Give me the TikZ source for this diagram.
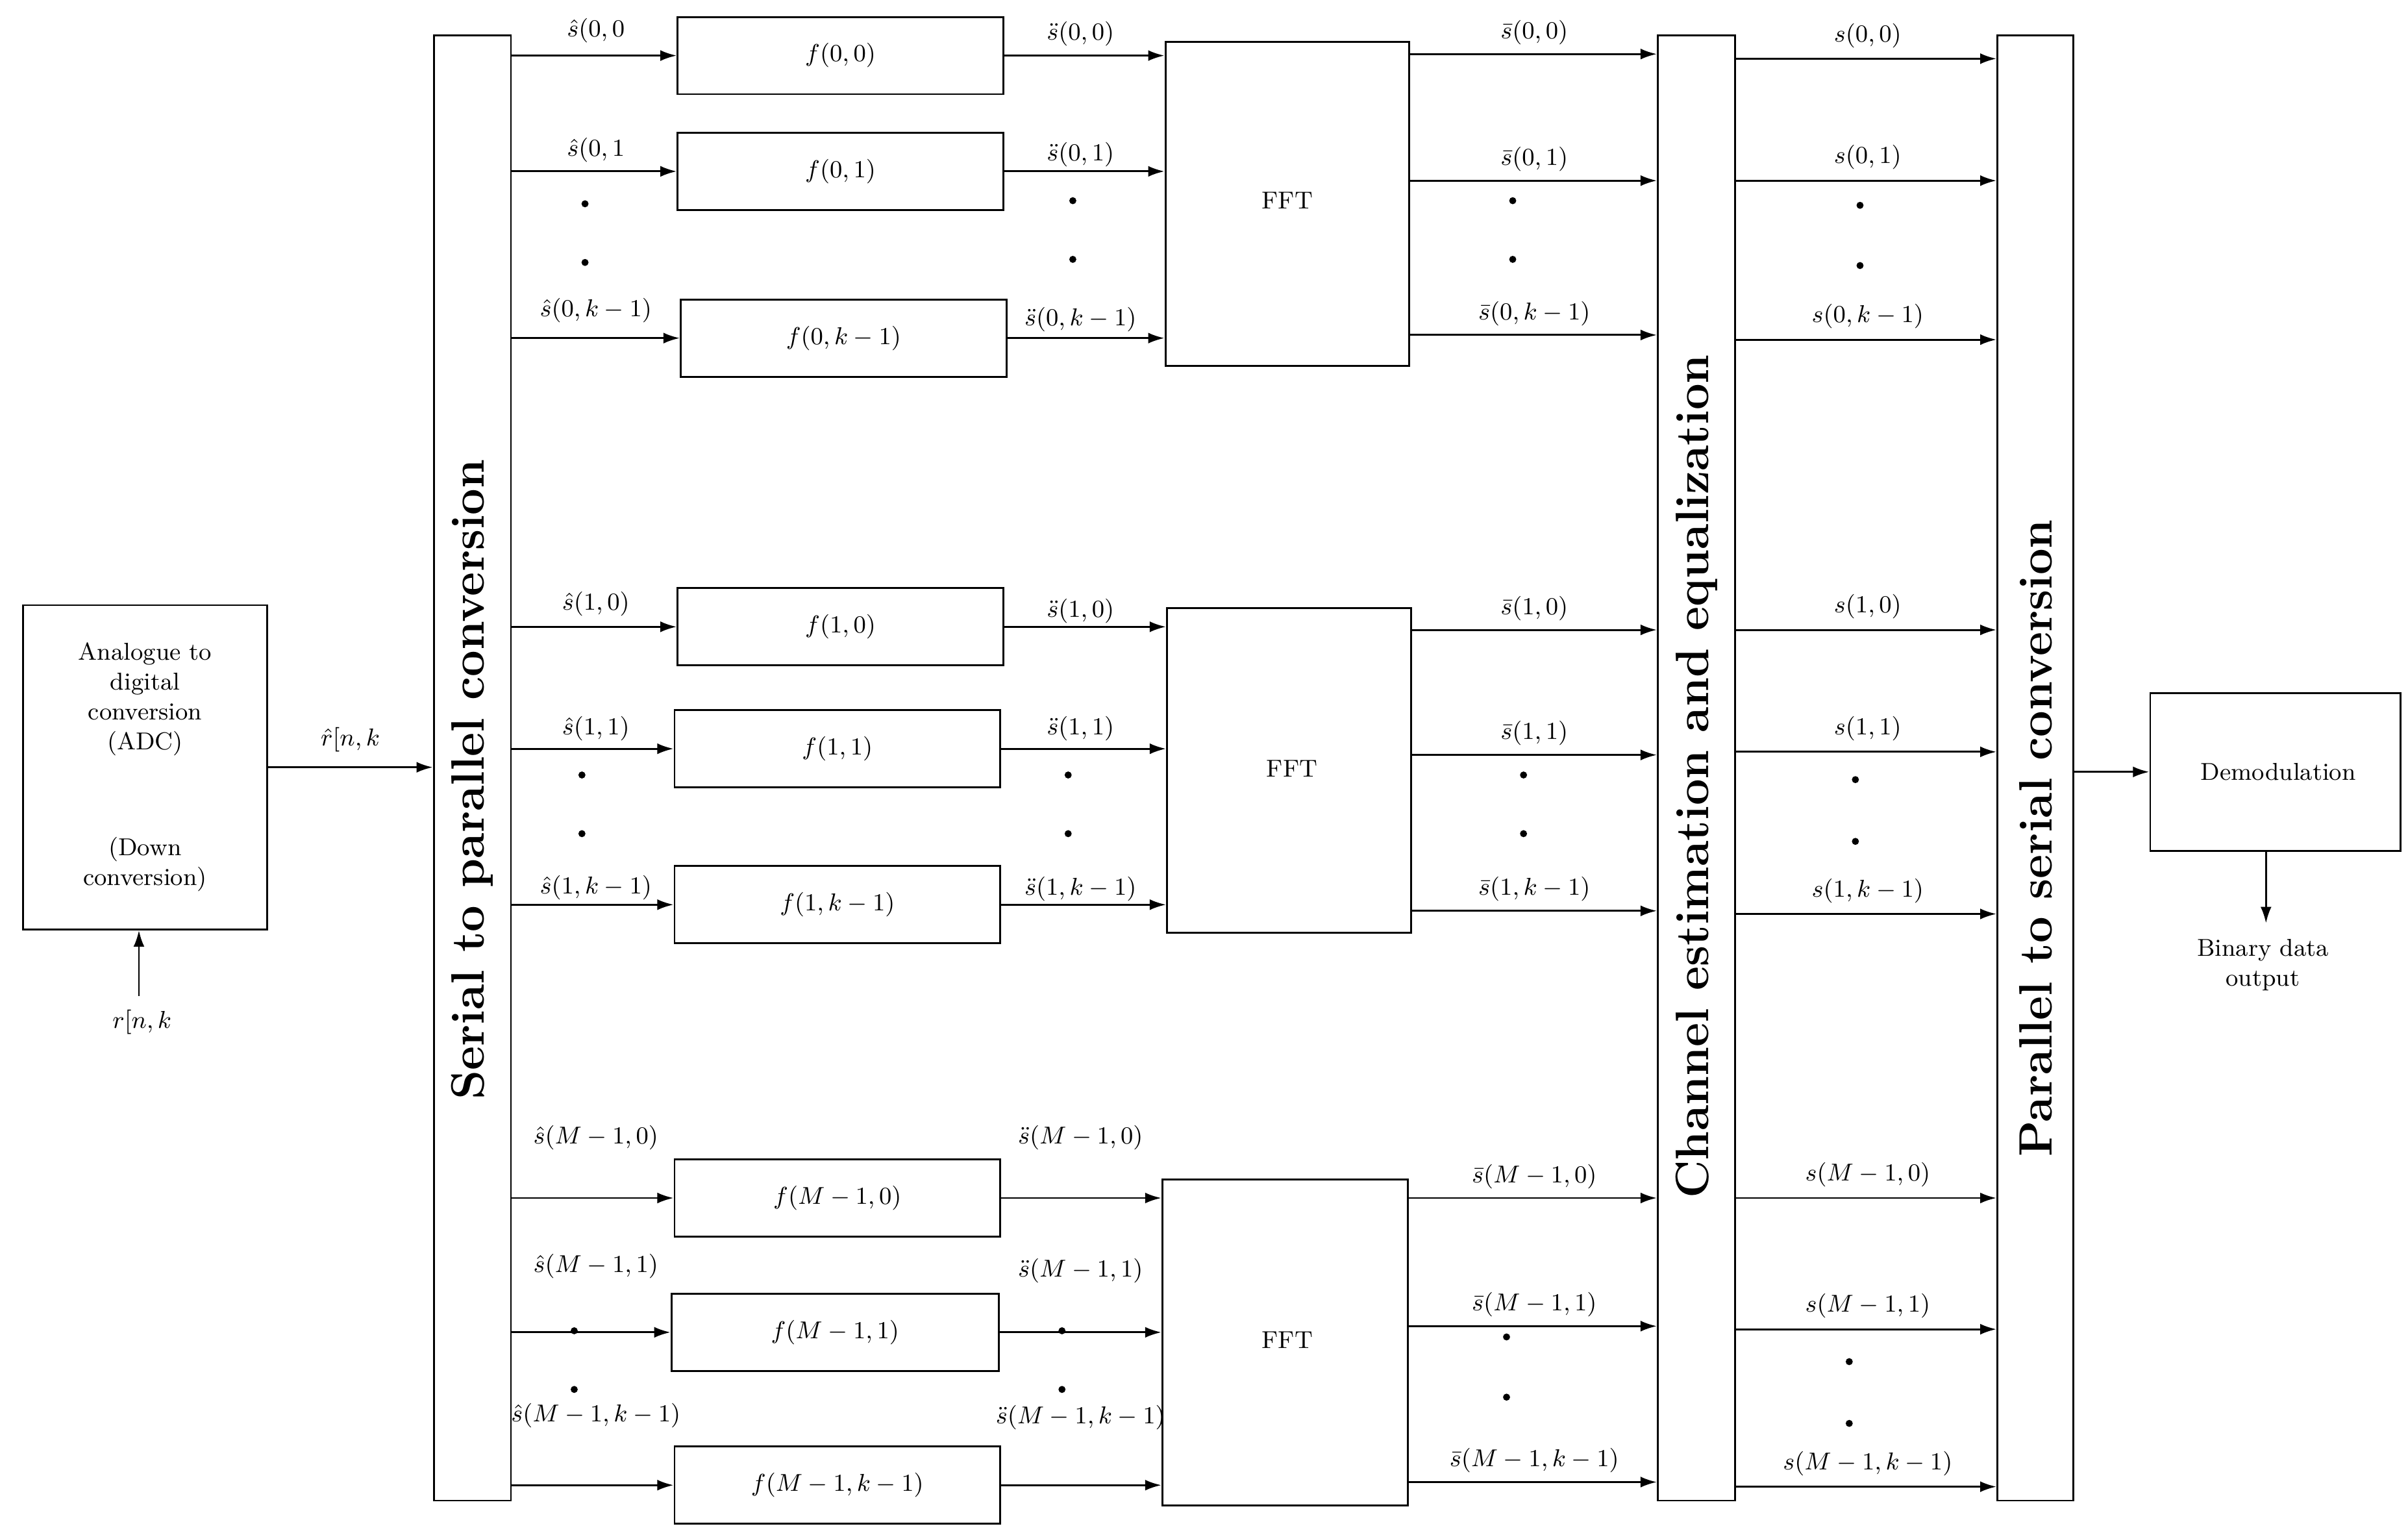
\documentclass[tikz,border=0pt]{standalone}
\usetikzlibrary{arrows.meta}
\begin{document}
\begin{tikzpicture}[x=0.02cm,y=-0.02cm,
  lbl/.style={font=\fontsize{9}{11}\selectfont},
  arr/.style={-{Latex[length=6pt,width=4pt]},line width=0.7pt},
  bx/.style={draw,line width=0.7pt,font=\fontsize{9}{11}\selectfont},
  big/.style={font=\LARGE\bfseries,rotate=90}]
\useasboundingbox (0,0) rectangle (1560,994);
\newcommand{\bxat}[5]{\node[bx,minimum width={(#3-#2)*0.02cm},minimum height={(#5-#4)*0.02cm},inner sep=0pt] (#1) at ({(#2+#3)/2},{(#4+#5)/2}) {};}
% ADC
\bxat{adc}{15}{173}{392}{602}
\node[lbl,align=center] at (94,453) {Analogue to\\digital\\conversion\\(ADC)};
\node[lbl,align=center] at (94,560) {(Down\\conversion)};
\coordinate (rin) at (90,645);
\node[lbl] (rlab) at (92,662) {$r[n,k$};
\draw[arr] (rin) -- (adc.south -| rin);
% big boxes
\bxat{sp}{281}{331}{23}{972}
\node[big] at (306,505) {Serial to parallel conversion};
\bxat{ce}{1074}{1124}{23}{972}
\node[big] at (1099,503) {Channel estimation and equalization};
\bxat{ps}{1294}{1343}{23}{972}
\node[big] at (1319,543) {Parallel to serial conversion};
\draw[arr] (adc.east) -- node[lbl,above=2pt]{$\hat r[n,k$} (sp.west |- adc.east);
% demod
\bxat{dm}{1393}{1555}{449}{551}
\node[lbl] at (1476,500) {Demodulation};
\draw[arr] (ps.east |- dm.west) -- (dm.west);
\coordinate (bout) at (1468,598);
\draw[arr] (dm.south -| bout) -- (bout);
\node[lbl,align=center] at (1466,625) {Binary data\\output};
% FFTs
\bxat{fftA}{755}{913}{27}{237}\node[lbl] at (834,130) {FFT};
\bxat{fftB}{756}{914}{394}{604}\node[lbl] at (837,498) {FFT};
\bxat{fftC}{753}{912}{764}{975}\node[lbl] at (834,868) {FFT};
% rows: name, x1,x2,y1,y2, fft, ffty, cey, text, inlabel, inlabely, outlabel, outlabely, bar label, s label
\foreach \n/\xa/\xb/\ya/\yb/\ff/\fy/\cy/\ft/\il/\ily/\ol/\oly/\bl/\sl in {
 a0/439/650/11/61/fftA/35/38/{f(0,0)}/{\hat s(0,0}/20/{\ddot s(0,0)}/22/{\bar s(0,0)}/{s(0,0)},
 a1/439/650/86/136/fftA/117/117/{f(0,1)}/{\hat s(0,1}/97/{\ddot s(0,1)}/100/{\bar s(0,1)}/{s(0,1)},
 a2/441/652/194/244/fftA/217/220/{f(0,k-1)}/{\hat s(0,k-1)}/201/{\ddot s(0,k-1)}/207/{\bar s(0,k-1)}/{s(0,k-1)},
 b0/439/650/381/431/fftB/408/408/{f(1,0)}/{\hat s(1,0)}/391/{\ddot s(1,0)}/396/{\bar s(1,0)}/{s(1,0)},
 b1/437/648/460/510/fftB/489/487/{f(1,1)}/{\hat s(1,1)}/472/{\ddot s(1,1)}/472/{\bar s(1,1)}/{s(1,1)},
 b2/437/648/561/611/fftB/590/592/{f(1,k-1)}/{\hat s(1,k-1)}/575/{\ddot s(1,k-1)}/576/{\bar s(1,k-1)}/{s(1,k-1)},
 c0/437/648/751/801/fftC/776/776/{f(M-1,0)}/{\hat s(M-1,0)}/737/{\ddot s(M-1,0)}/737/{\bar s(M-1,0)}/{s(M-1,0)},
 c1/435/647/838/888/fftC/859/861/{f(M-1,1)}/{\hat s(M-1,1)}/820/{\ddot s(M-1,1)}/823/{\bar s(M-1,1)}/{s(M-1,1)},
 c2/437/648/937/987/fftC/960/963/{f(M-1,k-1)}/{\hat s(M-1,k-1)}/917/{\ddot s(M-1,k-1)}/918/{\bar s(M-1,k-1)}/{s(M-1,k-1)}} {
  \bxat{\n}{\xa}{\xb}{\ya}{\yb}
  \node[lbl] at (\n) {$\ft$};
  \draw[arr] (sp.east |- \n.west) -- (\n.west);
  \draw[arr] (\n.east) -- (\ff.west |- \n.east);
  \coordinate (o\n) at (0,\fy);
  \coordinate (q\n) at (0,\cy);
  \draw[arr] (\ff.east |- o\n) -- (ce.west |- o\n);
  \draw[arr] (ce.east |- q\n) -- (ps.west |- q\n);
  \node[lbl] at (386,\ily) {$\il$};
  \node[lbl] at (700,\oly) {$\ol$};
  \node[lbl] at (994,{\fy-14}) {$\bl$};
  \node[lbl] at (1210,{\cy-15}) {$\sl$};
}
% dots
\foreach \x/\y in {379/132,379/170,695/130,695/168,980/130,980/168,1205/133,1205/172,
 377/502,377/540,692/502,692/540,987/502,987/540,1202/505,1202/545,
 372/862,372/900,688/862,688/900,976/866,976/905,1198/882,1198/922}
 \fill (\x,\y) circle (1.3pt);
\end{tikzpicture}
\end{document}
